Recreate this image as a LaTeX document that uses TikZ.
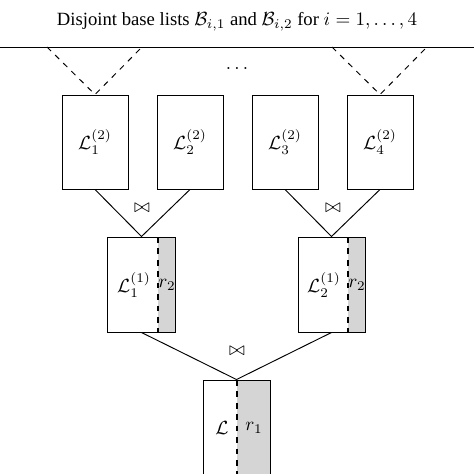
\documentclass[tikz,border=0pt]{standalone}
\usepackage[no-math]{fontspec}
\newfontfamily\titlefont{Liberation Serif}
\begin{document}
\begin{tikzpicture}[x=0.525pt,y=-0.525pt, line width=0.5pt,
  listbox/.style={draw, minimum width=34.65pt, minimum height=49.35pt, inner sep=0pt},
  midbox/.style={draw, minimum width=35.2pt, minimum height=49.9pt, inner sep=0pt},
  lowbox/.style={draw, minimum width=35.2pt, minimum height=52.5pt, inner sep=0pt},
  lbl/.style={inner sep=0pt},
  shade/.style={fill=gray!33},
  divider/.style={dashed, line width=0.6pt},
  feed/.style={dashed},
  joinline/.style={}]
\useasboundingbox (0,0) rectangle (474,474);
% title and base line
\node (title) at (237,22) {\titlefont\fontsize{9.8pt}{12pt}\selectfont Disjoint base lists $\mathcal{B}_{i,1}$ and $\mathcal{B}_{i,2}$ for $i=1,\ldots,4$};
\coordinate (bl) at (0,47);
\coordinate (br) at (474,47);
\draw (bl) -- (br);
\node (dots) at (237,68) {$\ldots$};
% top lists
\node[listbox] (t1) at (95,142) {$\mathcal{L}_1^{(2)}$};
\node[listbox] (t2) at (190,142) {$\mathcal{L}_2^{(2)}$};
\node[listbox] (t3) at (285,142) {$\mathcal{L}_3^{(2)}$};
\node[listbox] (t4) at (380,142) {$\mathcal{L}_4^{(2)}$};
% dashed feeds
\coordinate (f1a) at (47,47);
\coordinate (f1b) at (142,47);
\coordinate (f4a) at (332,47);
\coordinate (f4b) at (427,47);
\draw[feed] (f1a) -- (t1.north) -- (f1b);
\draw[feed] (f4a) -- (t4.north) -- (f4b);
% middle lists
\fill[shade] (158,237) rectangle (175,332);
\fill[shade] (348,237) rectangle (365,332);
\node[midbox] (m1) at (141.5,284.5) {};
\node[midbox] (m2) at (331.5,284.5) {};
\draw[divider] (158,237) -- (158,332);
\draw[divider] (348,237) -- (348,332);
\node[lbl] (m1l) at (134,285) {$\mathcal{L}_1^{(1)}$};
\node[lbl] (m2l) at (324,285) {$\mathcal{L}_2^{(1)}$};
\node[lbl] (m1r) at (167,285) {$r_2$};
\node[lbl] (m2r) at (357,285) {$r_2$};
% joins top -> middle
\draw[joinline] (t1.south) -- (m1.north) -- (t2.south);
\draw[joinline] (t3.south) -- (m2.north) -- (t4.south);
\node (j1) at (142,208) {$\bowtie$};
\node (j2) at (333,208) {$\bowtie$};
% bottom list
\fill[shade] (237,380) rectangle (270,480);
\node[lowbox] (b) at (236.5,430) {};
\draw[divider] (237,380) -- (237,480);
\node[lbl] (bl1) at (222,428) {$\mathcal{L}$};
\node[lbl] (br1) at (254,428) {$r_1$};
\draw[joinline] (m1.south) -- (b.north) -- (m2.south);
\node (j3) at (237,351) {$\bowtie$};
\end{tikzpicture}
\end{document}
